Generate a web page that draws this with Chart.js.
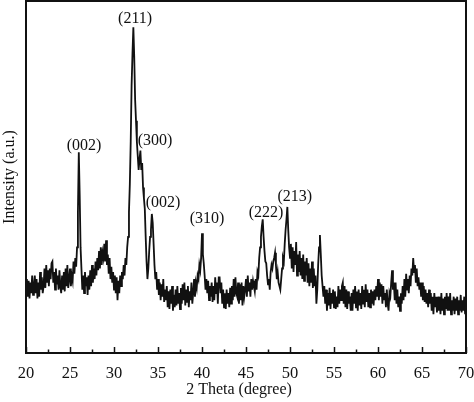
<!DOCTYPE html>
<html>
<head>
<meta charset="utf-8">
<script src="https://cdn.jsdelivr.net/npm/chart.js@4"></script>
<style>
  body { margin: 0; background: #fff; }
  #wrap { width: 474px; height: 402px; }
</style>
</head>
<body>
<div id="wrap"><canvas id="xrd"></canvas></div>
<script>
// 2 theta scan, every 0.1 degree (20 -> 70), one row per degree
const thetaStart = 20;
const thetaStep = 0.1;
const intensity = [
  18, 21, 16, 20.5, 15.5, 20, 17, 22, 16.5, 19,
  22, 17, 21, 15.5, 20, 16, 23, 18, 21.5, 17,
  19, 24, 18.5, 25, 20, 23.5, 19, 24, 21, 25.5,
  26, 20, 23, 18, 24, 19.5, 22, 18, 23.5, 19,
  17, 22, 18, 23, 17.5, 24, 19, 25, 18.5, 21,
  24, 19, 22, 20.5, 26, 22.5, 27, 24.5, 30, 40,
  57, 45, 30, 24, 18, 22, 17, 23, 19, 21.5,
  16.5, 22, 18, 23.5, 19, 25, 20, 24, 21, 26,
  22, 27, 23.5, 29, 24, 30, 25, 28.5, 27, 31,
  26, 32, 25, 28, 22.5, 27, 21, 24.5, 20, 23,
  18, 22, 17, 21.5, 15, 20.5, 17, 22, 19, 23,
  21, 25, 22, 27, 25, 30, 33, 40, 48, 60,
  76, 85, 92.5, 84, 72, 66, 60, 56, 52, 55,
  57.5, 52, 54, 47, 44, 41, 33, 26, 21, 24,
  29, 33, 35, 39.5, 37, 31, 25, 21, 23, 18,
  21, 16.5, 20, 15, 19.5, 16, 21, 14.5, 18, 15,
  19, 13, 17.5, 12.5, 18, 14, 19, 12, 16.5, 13,
  18, 13.5, 19, 14, 17, 12.5, 18.5, 14, 19.5, 15,
  20, 13.5, 18, 14.5, 19, 13, 17.5, 15, 20, 14,
  17, 21, 16, 20, 18.5, 22, 21, 25, 23.5, 27,
  34, 28, 25.5, 22, 18, 21, 17, 20.5, 15, 19,
  16, 20, 14.5, 19, 15, 21.5, 17, 20, 14, 21.5,
  21.5, 17, 20, 14, 18, 13, 17, 12.5, 18, 14,
  17, 13, 18.5, 14, 19, 15, 21, 16, 21.5, 17,
  16, 20, 14, 19.5, 15, 20, 13.5, 19, 16, 18,
  21, 16, 22, 17.5, 20, 16, 21, 18, 20.5, 19,
  17.5, 21, 18, 23, 22, 27, 30, 33, 36, 38,
  33, 29, 26, 25.5, 22, 19.5, 21, 18, 23, 25,
  24, 26, 27, 28.5, 25, 21, 23, 20, 19, 18,
  21, 24, 27, 26, 31, 35, 38, 41.5, 35, 30,
  27, 31, 24, 30, 23, 29, 25, 31.5, 22, 28,
  23, 29, 22, 27, 21, 28, 20.5, 26, 22, 27,
  20, 25.5, 19, 24, 20, 26, 18.5, 24, 19, 22,
  14, 18, 25, 30, 33.5, 28, 22, 19, 16, 19,
  14, 18, 12, 17, 13.5, 18.5, 12.5, 17, 14, 18,
  13, 17.5, 12.5, 16, 13, 19, 14, 18, 15, 19,
  20, 14, 19, 13, 18, 12.5, 17.5, 14, 16, 12,
  17, 12, 18, 14, 19, 13, 17.5, 12, 18, 13.5,
  17, 12.5, 19, 14, 18, 13, 19.5, 14.5, 18, 13,
  17, 13, 18, 14, 17.5, 13.5, 18, 15, 19, 16,
  21, 15, 20, 16, 19.5, 14, 19, 15, 17, 13,
  18, 14, 12, 17, 16, 20, 23.5, 18, 20, 15,
  20, 14, 18, 13, 16, 12, 17, 14, 19, 15,
  21, 16, 22.5, 18, 21, 17, 22, 19, 24, 22,
  27, 23, 25, 20, 24, 19, 21.5, 18, 20, 16,
  20, 15, 19, 14.5, 18, 14, 17, 13, 18, 14,
  17, 12, 16, 11, 17, 13, 16, 11.5, 16, 12,
  16, 11, 17, 12, 15.5, 11, 16, 12.5, 17, 12,
  16, 12, 17, 11, 15, 12, 16, 11, 15.5, 12,
  16, 11, 15, 12, 16.5, 11.5, 15, 12, 16, 11,
  15
];

// peak labels (Miller indices) and where they sit
const peakNames = ["(002)", "(211)", "(300)", "(002)", "(310)", "(222)", "(213)"];
const peakTheta = [26.6, 32.4, 34.66, 35.57, 40.57, 47.27, 50.55];
const peakLevel = [58.8, 94.9, 60.2, 42.6, 38.2, 39.8, 44.3];

const xTicks = [20, 25, 30, 35, 40, 45, 50, 55, 60, 65, 70];
const xTitle = "2 Theta (degree)";

const points = intensity.map((v, i) => ({ x: thetaStart + i * thetaStep, y: v }));

const serif = '"Liberation Serif", "DejaVu Serif", serif';

// frame, inward ticks, peak labels, axis title
const decor = {
  id: "decor",
  beforeDatasetsDraw(chart) {
    const { ctx, scales } = chart;
    ctx.save();
    ctx.fillStyle = "#111";
    ctx.font = "16px " + serif;
    ctx.textAlign = "center";
    ctx.textBaseline = "middle";
    peakNames.forEach((name, i) => {
      ctx.fillText(name, scales.x.getPixelForValue(peakTheta[i]), scales.y.getPixelForValue(peakLevel[i]));
    });
    ctx.restore();
  },
  afterDraw(chart) {
    const { ctx, chartArea: a, scales } = chart;
    ctx.save();
    ctx.strokeStyle = "#111";
    ctx.lineWidth = 2;
    ctx.strokeRect(a.left, a.top, a.right - a.left, a.bottom - a.top);
    ctx.lineWidth = 1.5;
    for (let t = 20; t <= 70; t += 2.5) {
      const px = Math.round(scales.x.getPixelForValue(t)) + 0.5;
      const len = t % 5 === 0 ? 6 : 3.5;
      ctx.beginPath();
      ctx.moveTo(px, a.bottom);
      ctx.lineTo(px, a.bottom - len);
      ctx.stroke();
    }
    ctx.fillStyle = "#111";
    ctx.font = "16px " + serif;
    ctx.textAlign = "center";
    ctx.textBaseline = "middle";
    ctx.fillText(xTitle, (a.left + a.right) / 2 - 7, a.bottom + 37);
    ctx.restore();
  }
};

new Chart(document.getElementById("xrd"), {
  type: "line",
  data: {
    datasets: [{
      data: points,
      borderColor: "#111",
      borderWidth: 1.8,
      pointRadius: 0,
      tension: 0,
      fill: false
    }]
  },
  options: {
    responsive: true,
    maintainAspectRatio: false,
    animation: false,
    layout: { padding: { top: 1, right: 8, left: 0, bottom: 0 } },
    plugins: {
      legend: { display: false },
      tooltip: { enabled: false }
    },
    scales: {
      x: {
        type: "linear",
        min: 20,
        max: 70,
        afterFit(scale) {
          scale.height = 49;
          scale.paddingLeft = 0;
          scale.paddingRight = 0;
        },
        afterBuildTicks(scale) { scale.ticks = xTicks.map(v => ({ value: v })); },
        grid: { display: false },
        border: { display: false },
        ticks: {
          color: "#111",
          padding: 3,
          maxRotation: 0,
          font: { family: serif, size: 16.5 }
        }
      },
      y: {
        min: 0,
        max: 100,
        afterFit(scale) { scale.width = 26; },
        grid: { display: false },
        border: { display: false },
        ticks: { display: false },
        title: {
          display: true,
          text: "Intensity (a.u.)",
          color: "#111",
          padding: { top: 0, bottom: 0 },
          font: { family: serif, size: 16 }
        }
      }
    }
  },
  plugins: [decor]
});
</script>
</body>
</html>
